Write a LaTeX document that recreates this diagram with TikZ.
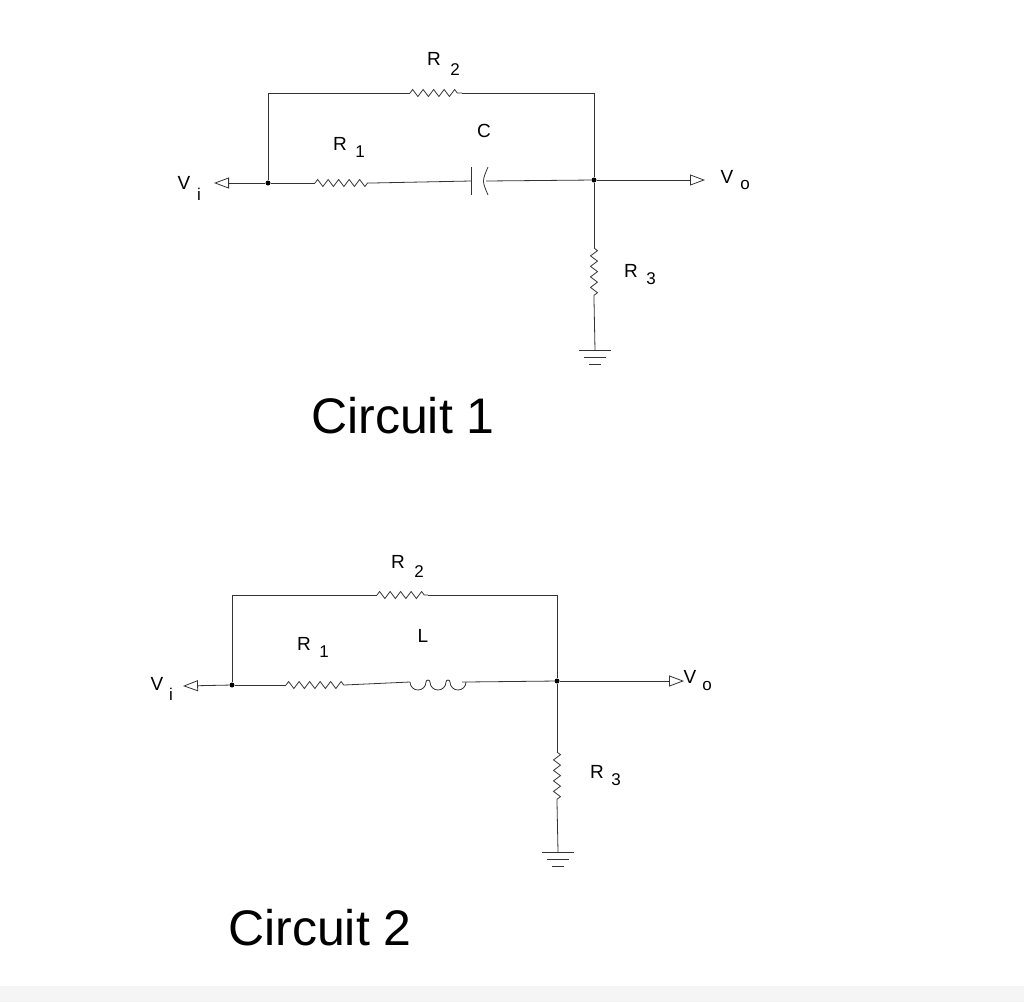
\documentclass[tikz,border=0pt]{standalone}
\usepackage{fontspec}
\setmainfont{Liberation Sans}
\usetikzlibrary{arrows.meta,decorations.pathmorphing,calc}
\begin{document}
\begin{tikzpicture}[x=1pt,y=-1pt,
  wire/.style={line width=0.8pt,black!80},
  res/.style={wire,decorate,decoration={zigzag,segment length=10.5pt,amplitude=3.5pt}},
  outarr/.style={wire,-{Triangle[open,length=15pt,width=11pt]}},
  dot/.style={circle,fill=black,inner sep=0pt,minimum size=5pt},
  lbl/.style={font=\fontsize{19}{19}\selectfont,inner sep=0pt},
  sub/.style={font=\fontsize{17}{17}\selectfont,inner sep=0pt},
  title/.style={font=\fontsize{50}{50}\selectfont,inner sep=0pt}]
\useasboundingbox (0,0) rectangle (1024,1002);
\fill[gray!8] (0,986) rectangle (1024,1002);
% ---------- Circuit 1
\node[dot] (a1) at (268,183) {};
\node[dot] (b1) at (594,180) {};
\coordinate (tl1) at (268,93);
\coordinate (tr1) at (594,93);
\coordinate (r2a) at (410,93); \coordinate (r2b) at (462,93);
\coordinate (r1a) at (315,183); \coordinate (r1b) at (372,183);
\coordinate (c1a) at (471,181); \coordinate (c1b) at (486,181);
\coordinate (vi1) at (214,183); \coordinate (vo1) at (705,180);
\coordinate (r3a) at (594,248); \coordinate (r3b) at (594,300);
\coordinate (g1) at (595,350);
\draw[wire] (a1) -- (tl1) -- (r2a);
\draw[res] (r2a) -- (r2b);
\draw[wire] (r2b) -- (tr1) -- (b1);
\draw[outarr] (a1) -- (vi1);
\draw[wire] (a1) -- (r1a);
\draw[res] (r1a) -- (r1b);
\draw[wire] (r1b) -- (c1a);
\draw[wire] ($(c1a)+(0,-14)$) -- ($(c1a)+(0,14)$);
\draw[wire] ($(c1b)+(2,-14)$) .. controls ($(c1b)+(-4,0)$) .. ($(c1b)+(2,14)$);
\draw[wire] (c1b) -- (b1);
\draw[outarr] (b1) -- (vo1);
\draw[wire] (b1) -- (r3a);
\draw[res] (r3a) -- (r3b);
\draw[wire] (r3b) -- (g1);
\draw[wire] ($(g1)+(-16,0)$) -- ($(g1)+(16,0)$);
\draw[wire] ($(g1)+(-11,7)$) -- ($(g1)+(11,7)$);
\draw[wire] ($(g1)+(-6,14)$) -- ($(g1)+(6,14)$);
\node[lbl] (R2t) at (434,59) {R};
\node[sub] at (455,70) {2};
\node[lbl] at (340,144) {R};
\node[sub] at (360,152) {1};
\node[lbl] at (484,131) {C};
\node[lbl] at (631,271) {R};
\node[sub] at (651,279) {3};
\node[lbl] at (184,183) {V};
\node[sub] at (199,194) {i};
\node[lbl] at (727,177) {V};
\node[sub] at (745,185) {o};
\node[title] at (403,416) {Circuit 1};
% ---------- Circuit 2
\node[dot] (a2) at (232,685) {};
\node[dot] (b2) at (557,681) {};
\coordinate (tl2) at (232,595);
\coordinate (tr2) at (557,595);
\coordinate (s2a) at (377,595); \coordinate (s2b) at (428,595);
\coordinate (s1a) at (286,685); \coordinate (s1b) at (344,685);
\coordinate (la) at (410,682); \coordinate (lb) at (465,682);
\coordinate (vi2) at (183,686); \coordinate (vo2) at (684,681);
\coordinate (s3a) at (557,752); \coordinate (s3b) at (557,802);
\coordinate (g2) at (558,852);
\draw[wire] (a2) -- (tl2) -- (s2a);
\draw[res] (s2a) -- (s2b);
\draw[wire] (s2b) -- (tr2) -- (b2);
\draw[outarr] (a2) -- (vi2);
\draw[wire] (a2) -- (s1a);
\draw[res] (s1a) -- (s1b);
\draw[wire] (s1b) -- (la);
\draw[wire] (la) arc[start angle=180,end angle=0,radius=8] arc[start angle=180,end angle=360,radius=2]
  arc[start angle=180,end angle=0,radius=8] arc[start angle=180,end angle=360,radius=2]
  arc[start angle=180,end angle=0,radius=8];
\draw[wire] ($(la)+(52,0)$) -- (lb) -- (b2);
\draw[outarr] (b2) -- (vo2);
\draw[wire] (b2) -- (s3a);
\draw[res] (s3a) -- (s3b);
\draw[wire] (s3b) -- (g2);
\draw[wire] ($(g2)+(-16,0)$) -- ($(g2)+(16,0)$);
\draw[wire] ($(g2)+(-11,7)$) -- ($(g2)+(11,7)$);
\draw[wire] ($(g2)+(-6,14)$) -- ($(g2)+(6,14)$);
\node[lbl] at (398,562) {R};
\node[sub] at (419,572) {2};
\node[lbl] at (304,644) {R};
\node[sub] at (324,652) {1};
\node[lbl] at (423,636) {L};
\node[lbl] at (597,772) {R};
\node[sub] at (616,780) {3};
\node[lbl] at (157,684) {V};
\node[sub] at (171,694) {i};
\node[lbl] at (690,677) {V};
\node[sub] at (707,686) {o};
\node[title] at (320,928) {Circuit 2};
\end{tikzpicture}
\end{document}
